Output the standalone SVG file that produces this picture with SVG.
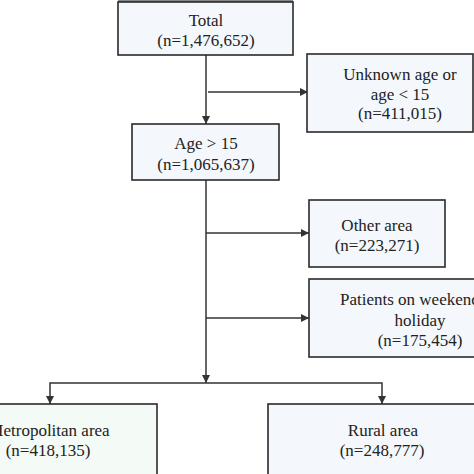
<svg xmlns="http://www.w3.org/2000/svg" width="474" height="474" viewBox="0 0 474 474">
<defs>
<marker id="ah" viewBox="0 0 10 10" refX="10" refY="5" markerWidth="8" markerHeight="8" markerUnits="userSpaceOnUse" orient="auto">
<path d="M0,0 L10,5 L0,10 z" fill="#333"/>
</marker>
</defs>
<style>
.box{fill:#f4f8fc;stroke:#2a2a2a;stroke-width:1.6}
.t{font-family:"Liberation Serif","Times New Roman",serif;font-size:17px;fill:#222;text-anchor:middle}
.c{fill:none;stroke:#333;stroke-width:1.5}
</style>
<rect width="474" height="474" fill="#fff"/>
<g id="connectors">
<line class="c" x1="206" y1="55" x2="206" y2="124" marker-end="url(#ah)"/>
<line class="c" x1="208" y1="92" x2="308" y2="92" marker-end="url(#ah)"/>
<line class="c" x1="206" y1="180" x2="206" y2="383" marker-end="url(#ah)"/>
<line class="c" x1="206" y1="233" x2="309" y2="233" marker-end="url(#ah)"/>
<line class="c" x1="206" y1="318" x2="309" y2="318" marker-end="url(#ah)"/>
<polyline class="c" points="50,404 50,383 382,383 382,404"/>
<path d="M46,396 L54,396 L50,404 z" fill="#333"/>
<path d="M378,396 L386,396 L382,404 z" fill="#333"/>
</g>
<g id="total">
<rect x="118" y="0" width="175" height="3" fill="#888"/>
<rect class="box" x="118" y="2" width="175" height="53"/>
<text class="t" x="206" y="26">Total</text>
<text class="t" x="206" y="46">(n=1,476,652)</text>
</g>
<g id="unknown">
<rect class="box" x="307" y="54" width="166" height="78"/>
<text class="t" x="400" y="80">Unknown age or</text>
<text class="t" x="400" y="100">age &lt; 15</text>
<text class="t" x="400" y="119">(n=411,015)</text>
</g>
<g id="age">
<rect class="box" x="132" y="124" width="147" height="56"/>
<text class="t" x="206" y="149">Age &gt; 15</text>
<text class="t" x="206" y="170">(n=1,065,637)</text>
</g>
<g id="other">
<rect class="box" x="309" y="200" width="136" height="67"/>
<text class="t" x="377" y="231">Other area</text>
<text class="t" x="377" y="251">(n=223,271)</text>
</g>
<g id="weekend">
<rect class="box" x="309" y="279" width="170" height="78"/>
<text class="t" x="340" y="305" style="text-anchor:start">Patients on weekend</text>
<text class="t" x="420" y="326">holiday</text>
<text class="t" x="420" y="346">(n=175,454)</text>
</g>
<g id="metro">
<rect class="box" x="-5" y="404" width="162" height="75" style="fill:#f4faf6"/>
<text class="t" x="49" y="436">Metropolitan area</text>
<text class="t" x="48" y="456">(n=418,135)</text>
</g>
<g id="rural">
<rect class="box" x="268" y="404" width="210" height="75"/>
<text class="t" x="383" y="436">Rural area</text>
<text class="t" x="382" y="456">(n=248,777)</text>
</g>
</svg>
